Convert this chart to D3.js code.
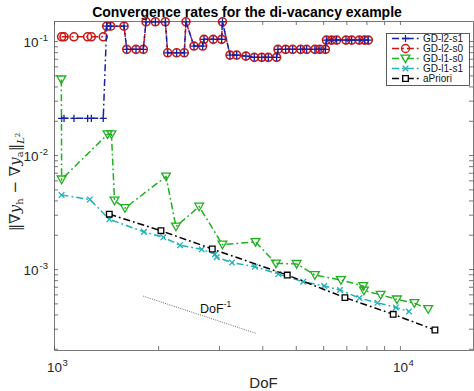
<!DOCTYPE html>
<html><head><meta charset="utf-8">
<script src="https://cdn.jsdelivr.net/npm/d3@7/dist/d3.min.js"></script>
<style>body{margin:0;background:#fff}svg{display:block}</style>
</head><body><svg id="c" width="474" height="391"></svg>
<script>
// ---------- data ----------
const dofGDl2 = [1052,1069,1142,1251,1282,1388,1420,1458,1594,1623,1726,1812,1845,1963,2098,2131,2262,2380,2407,2539,2690,2714,2886,3052,3069,3227,3373,3588,3793,3986,4163,4400,4440,4673,4897,5164,5375,5679,5872,6090,6130,6346,6561,6982,7252,7627,7900,8100];
const errGDl2s0 = [0.109,0.109,0.109,0.109,0.109,0.109,0.135,0.135,0.135,0.0846,0.0846,0.0846,0.1476,0.1476,0.1476,0.0789,0.0789,0.0789,0.1476,0.0904,0.0904,0.1035,0.1035,0.1035,0.1476,0.0753,0.0753,0.0738,0.072,0.072,0.072,0.072,0.0846,0.0846,0.0846,0.0846,0.0846,0.0846,0.0846,0.0846,0.102,0.102,0.102,0.102,0.102,0.102,0.102,0.102];
const errGDl2s1 = [0.021,0.021,0.021,0.021,0.021,0.021,0.135,0.135,0.135,0.0846,0.0846,0.0846,0.1476,0.1476,0.1476,0.0789,0.0789,0.0789,0.1476,0.0904,0.0904,0.1035,0.1035,0.1035,0.1476,0.0753,0.0753,0.0738,0.072,0.072,0.072,0.072,0.0846,0.0846,0.0846,0.0846,0.0846,0.0846,0.0846,0.0846,0.102,0.102,0.102,0.102,0.102,0.102,0.102,0.102];
const dofGDl1s0 = [1050,1052,1428,1466,1496,1604,2108,2252,2628,3069,3824,4382,5028,5679,6752,7833,7870,8796,9802,11013,12071];
const errGDl1s0 = [0.0461,0.00612,0.0152,0.0152,0.00399,0.00343,0.00648,0.00236,0.00353,0.00164,0.00173,0.00112,0.00111,0.000886,0.000801,0.000710,0.000648,0.000595,0.000542,0.000503,0.000446];
const dofGDl1s1 = [1052,1270,1445,1820,2070,2313,2673,2920,2953,3269,3810,4449,5254,6042,6709,7637,8610,9737,10617];
const errGDl1s1 = [0.00446,0.00408,0.00273,0.00212,0.00190,0.00162,0.00149,0.00135,0.00127,0.00114,0.00105,0.000904,0.000774,0.000710,0.000655,0.000557,0.000506,0.000461,0.000424];
const dofAPriori = [1445,2038,2868,4724,6934,9563,12623];
const errAPriori = [0.00303,0.00217,0.00150,0.000886,0.000562,0.000401,0.000292];
const refDoF = [1811,3836];
const refErr = [0.000579,0.000273];
const xMajorTicks = [1000,10000];
const xMajorLabels = ["3","4"];
const xMinorTicks = [2000,3000,4000,5000,6000,7000,8000,9000];
const yMajorTicks = [0.001,0.01,0.1];
const yMajorLabels = ["-3","-2","-1"];
const yMinorTicks = [0.0002,0.0003,0.0004,0.0005,0.0006,0.0007,0.0008,0.0009,0.002,0.003,0.004,0.005,0.006,0.007,0.008,0.009,0.02,0.03,0.04,0.05,0.06,0.07,0.08,0.09];
const titleText = "Convergence rates for the di-vacancy example";
const xLabelText = "DoF";

const series = [
  {name:"GD-l2-s0", x:dofGDl2, y:errGDl2s0, color:"#c81818", marker:"circle"},
  {name:"GD-l2-s1", x:dofGDl2, y:errGDl2s1, color:"#1422a8", marker:"plus"},
  {name:"GD-l1-s0", x:dofGDl1s0, y:errGDl1s0, color:"#1fb01f", marker:"tri"},
  {name:"GD-l1-s1", x:dofGDl1s1, y:errGDl1s1, color:"#1fb0b8", marker:"cross"},
  {name:"aPriori", x:dofAPriori, y:errAPriori, color:"#000000", marker:"square"}
];
const legendOrder = ["GD-l2-s1","GD-l2-s0","GD-l1-s0","GD-l1-s1","aPriori"];

// ---------- layout ----------
const L = 54, R = 473, T = 21, B = 350;
const svg = d3.select("#c");
const x = d3.scaleLog().domain([1000, 16264]).range([L, R]);
const y = d3.scaleLog().domain([1.95e-4, 0.15]).range([B, T]);
const axCol = "#555";
const txtCol = "#262626";
const font = "'Liberation Sans', Arial, Helvetica, sans-serif";

const allX = xMinorTicks.concat(xMajorTicks);
const allY = yMinorTicks.concat(yMajorTicks);
function styleAxis(g){
  g.select(".domain").attr("stroke", axCol).attr("stroke-width", 0.8);
  g.selectAll(".tick line").attr("stroke", axCol).attr("stroke-width", 0.8);
  g.selectAll(".tick text").remove();
}
svg.append("g").attr("transform",`translate(0,${B})`)
  .call(d3.axisBottom(x).tickValues(allX).tickSizeInner(-4).tickSizeOuter(0).tickFormat(""))
  .call(styleAxis);
svg.append("g").attr("transform",`translate(0,${T})`)
  .call(d3.axisTop(x).tickValues(allX).tickSizeInner(-4).tickSizeOuter(0).tickFormat(""))
  .call(styleAxis);
svg.append("g").attr("transform",`translate(${L},0)`)
  .call(d3.axisLeft(y).tickValues(allY).tickSizeInner(-4).tickSizeOuter(0).tickFormat(""))
  .call(styleAxis);
svg.append("g").attr("transform",`translate(${R},0)`)
  .call(d3.axisRight(y).tickValues(allY).tickSizeInner(-4).tickSizeOuter(0).tickFormat(""))
  .call(styleAxis);

xMajorTicks.forEach((v,i)=>{
  const px = x(v);
  svg.append("text").attr("x", px+0.5).attr("y", 372).attr("text-anchor","middle")
    .attr("font-family", font).attr("font-size", 13.5).attr("fill", txtCol).text("10");
  svg.append("text").attr("x", px+8.5).attr("y", 366).attr("font-family", font)
    .attr("font-size", 9.5).attr("fill", txtCol).text(xMajorLabels[i]);
});
yMajorTicks.forEach((v,i)=>{
  const py = y(v);
  svg.append("text").attr("x", 38.5).attr("y", py+6).attr("text-anchor","end")
    .attr("font-family", font).attr("font-size", 13.5).attr("fill", txtCol).text("10");
  svg.append("text").attr("x", 39.5).attr("y", py-0.5).attr("font-family", font)
    .attr("font-size", 9.5).attr("fill", txtCol).text(yMajorLabels[i]);
});

svg.append("text").attr("x", 247).attr("y", 17).attr("text-anchor","middle")
  .attr("font-family", font).attr("font-weight","bold").attr("font-size", 14)
  .attr("fill","#000").text(titleText);
svg.append("text").attr("x", (L+R)/2).attr("y", 388).attr("text-anchor","middle")
  .attr("font-family", font).attr("font-size", 15).attr("fill", txtCol).text(xLabelText);

const yl = svg.append("text").attr("transform","translate(20,182) rotate(-90)")
  .attr("text-anchor","middle").attr("font-family","'DejaVu Serif','Liberation Serif',serif")
  .attr("font-size", 15).attr("fill", txtCol);
yl.append("tspan").text("\u2016\u2207");
yl.append("tspan").attr("font-style","italic").text("y");
yl.append("tspan").attr("font-size",10).attr("dy",3).text("h");
yl.append("tspan").attr("dy",-3).text(" \u2212 \u2207");
yl.append("tspan").attr("font-style","italic").text("y");
yl.append("tspan").attr("font-size",10).attr("dy",3).text("a");
yl.append("tspan").attr("dy",-3).text("\u2016");
yl.append("tspan").attr("font-size",10).attr("font-style","italic").attr("dy",4).text("L");
yl.append("tspan").attr("font-size",7).attr("dy",-4).text("2");

svg.append("path")
  .attr("d", d3.line().x((d,i)=>x(refDoF[i])).y((d,i)=>y(refErr[i]))(refDoF))
  .attr("fill","none").attr("stroke","#666").attr("stroke-width",1).attr("stroke-dasharray","1,1.3");
const refT = svg.append("text").attr("x", 200).attr("y", 312.5).attr("font-family", font)
  .attr("font-size", 12.5).attr("fill","#111");
refT.append("tspan").text("DoF");
refT.append("tspan").attr("font-size",8.5).attr("dy",-6).text("-1");

function markerPath(type){
  switch(type){
    case "circle": return d3.symbol(d3.symbolCircle, 50)();
    case "plus": return "M-3.6,0H3.6M0,-3.6V3.6";
    case "cross": return "M-2.8,-2.8L2.8,2.8M-2.8,2.8L2.8,-2.8";
    case "tri": return "M-4.4,-3.4L4.4,-3.4L0,4.2Z";
    case "square": return "M-2.8,-2.8H2.8V2.8H-2.8Z";
  }
}
const dash = "7,3,1.8,3";
series.forEach(s=>{
  const pts = s.x.map((v,i)=>[x(v), y(s.y[i])]);
  svg.append("path").attr("d", d3.line()(pts)).attr("fill","none")
    .attr("stroke", s.color).attr("stroke-width", 1.5).attr("stroke-dasharray", dash);
  svg.append("g").selectAll("path").data(pts).join("path")
    .attr("transform", d=>`translate(${d[0]},${d[1]})`)
    .attr("d", markerPath(s.marker))
    .attr("fill", s.marker==="square" ? "#fff" : "none")
    .attr("stroke", s.color).attr("stroke-width", s.marker==="circle" ? 1.6 : 1.3);
});

const lg = svg.append("g");
lg.append("rect").attr("x",386.5).attr("y",33.5).attr("width",83).attr("height",52)
  .attr("fill","#fff").attr("stroke","#333").attr("stroke-width",0.8);
legendOrder.forEach((nm,i)=>{
  const s = series.find(d=>d.name===nm);
  const yy = 38.5 + i*10;
  lg.append("line").attr("x1",392).attr("x2",419).attr("y1",yy).attr("y2",yy)
    .attr("stroke", s.color).attr("stroke-width",1.5).attr("stroke-dasharray","7,3,1.8,3");
  lg.append("path").attr("transform",`translate(405.5,${yy})`).attr("d", markerPath(s.marker))
    .attr("fill", s.marker==="square" ? "#fff" : "none").attr("stroke", s.color).attr("stroke-width",1.3);
  lg.append("text").attr("x",423).attr("y",yy+3.5).attr("font-family",font).attr("font-size",10)
    .attr("fill","#111").text(nm);
});
</script>
</body></html>
